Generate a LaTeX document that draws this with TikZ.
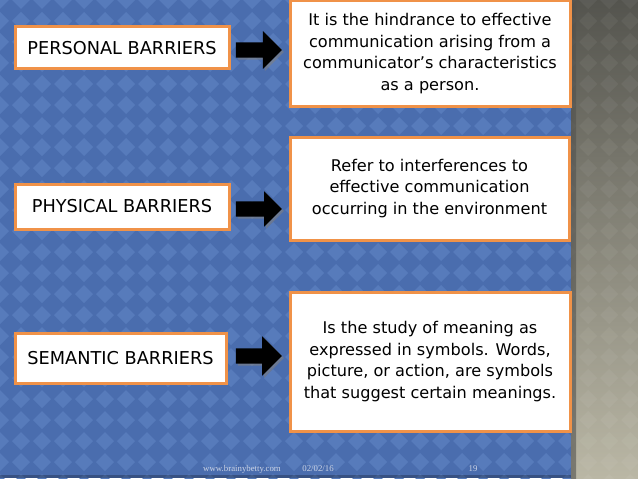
\documentclass[tikz,border=0pt]{standalone}
\usepackage{fontspec}
\setmainfont{DejaVu Sans}
\newfontfamily\footfont{Liberation Serif}
\usetikzlibrary{shapes.arrows,shadows}
\definecolor{bgblue}{RGB}{74,109,174}
\definecolor{dmblue}{RGB}{87,123,187}
\definecolor{orng}{RGB}{240,146,72}
\definecolor{stripTop}{RGB}{84,84,78}
\definecolor{stripBot}{RGB}{186,183,165}
\definecolor{footc}{RGB}{205,213,230}
\begin{document}
\begin{tikzpicture}[x=0.75pt,y=-0.75pt,
  lbox/.style={draw=orng, line width=2.25pt, fill=white, inner sep=0pt,
    font=\fontsize{13.3pt}{16pt}\selectfont, text=black},
  dbox/.style={draw=orng, line width=2.25pt, fill=white, inner sep=0pt, align=center,
    font=\fontsize{12.1pt}{16.1pt}\selectfont, text=black,
    drop shadow={shadow xshift=1.5pt, shadow yshift=-1.5pt, opacity=0.35}},
  barrow/.style={single arrow, fill=black, minimum height=34.5pt,
    single arrow head extend=7.5pt, inner xsep=0pt, inner ysep=5.5pt,
    drop shadow={shadow xshift=1.5pt, shadow yshift=-1.5pt, fill=gray, opacity=0.6}},
  foot/.style={font=\footfont\fontsize{6.6pt}{8pt}\selectfont, text=footc, inner sep=0pt}]
\useasboundingbox (0,0) rectangle (638,478);
% blue patterned background
\fill[bgblue] (0,0) rectangle (571,478);
\begin{scope}
\clip (0,0) rectangle (571,478);
\foreach \i in {0,...,28}{\foreach \j in {0,...,23}{
  \fill[dmblue] (\i*21,\j*21) +(-9,0) -- +(0,-9) -- +(9,0) -- +(0,9) -- cycle;}}
\end{scope}
\fill[black,opacity=0.25] (0,475) rectangle (571,478);
% right strip
\shade[top color=stripTop, bottom color=stripBot] (571,0) rectangle (638,478);
\begin{scope}
\clip (571,0) rectangle (638,478);
\foreach \i in {27,...,31}{\foreach \j in {0,...,23}{
  \fill[white,opacity=0.05] (\i*21,\j*21) +(-9,0) -- +(0,-9) -- +(9,0) -- +(0,9) -- cycle;}}
\end{scope}
\shade[left color=black!70, right color=stripTop, opacity=0.6] (571,0) rectangle (576,478);
% left labels
\node[lbox, minimum width=160.5pt, minimum height=31.5pt] (p) at (122,48) {PERSONAL BARRIERS};
\node[lbox, minimum width=160.5pt, minimum height=33.75pt] (ph) at (122,206.5) {PHYSICAL BARRIERS};
\node[lbox, minimum width=158.25pt, minimum height=37.5pt] (s) at (120.5,358) {SEMANTIC BARRIERS};
% arrows
\node[barrow, single arrow head extend=8.5pt] (a1) at (255,50) {};
\node[barrow, single arrow head extend=7.5pt] (a2) at (255,209) {};
\node[barrow, single arrow head extend=9pt] (a3) at (255,356) {};
% descriptions
\node[dbox, minimum width=210pt, minimum height=78.75pt] (d1) at (430,53.5)
  {It is the hindrance to effective\\communication arising from a\\communicator’s characteristics\\as a person.};
\node[dbox, minimum width=209.25pt, minimum height=77.25pt] (d2) at (429.5,188.5)
  {Refer to interferences to\\effective communication\\occurring in the environment};
\node[dbox, minimum width=210pt, minimum height=104.25pt] (d3) at (430,361.5)
  {Is the study of meaning as\\expressed in symbols. Words,\\picture, or action, are symbols\\that suggest certain meanings.};
% footer
\node[foot] (url) at (242,469) {www.brainybetty.com};
\node[foot] (date) at (318,469) {02/02/16};
\node[foot] (pg) at (473,469) {19};
\end{tikzpicture}
\end{document}
